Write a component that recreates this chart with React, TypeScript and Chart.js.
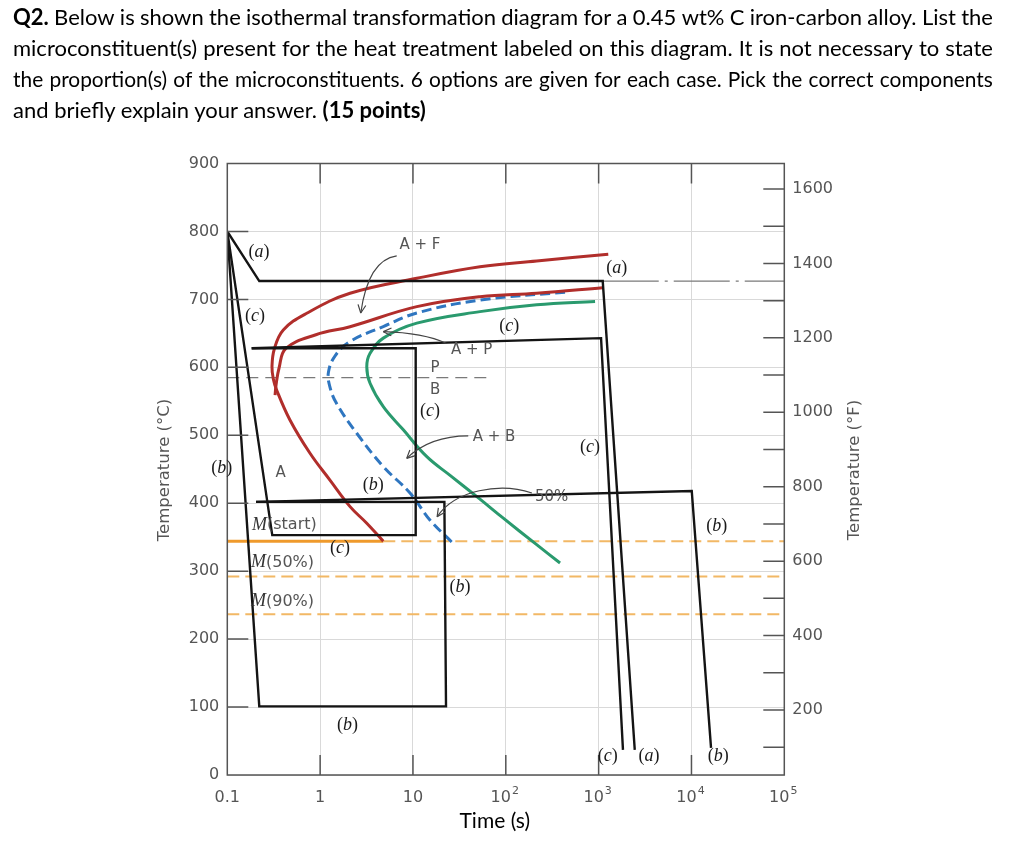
import React, { useEffect, useRef } from 'react';
import { Chart, registerables } from 'chart.js';
Chart.register(...registerables);

type Pt = [number, number];

// ---------- axes ----------
const timeTicks = [0.1, 1, 10, 100, 1000, 10000, 100000];
const timeTickBase = ['0.1', '1', '10', '10', '10', '10', '10'];
const timeTickExp = ['', '', '', '2', '3', '4', '5'];
const innerTimeTicks = [1, 10, 100, 1000, 10000];
const tempTicksC = [0, 100, 200, 300, 400, 500, 600, 700, 800, 900];
const innerTempTicksC = [100, 200, 300, 400, 500, 600, 700, 800];
const tempTicksF = [100, 200, 300, 400, 500, 600, 700, 800, 900, 1000, 1100, 1200, 1300, 1400, 1500, 1600];
const F_MIN = 25.3;
const F_MAX = 1668.5;

// ---------- transformation curves (time s, temperature °C) ----------
const ferriteStart: Pt[] = [
  [4.79, 344], [3.18, 370.5], [2.1, 395], [1.276, 434], [0.778, 473.5], [0.473, 522.5],
  [0.34, 566.7], [0.313, 583], [0.303, 601], [0.321, 627], [0.401, 655], [0.717, 679.6],
  [2.1, 709], [11.0, 731], [52.7, 748], [215, 756.5], [1270, 766.4],
];
const pearliteStart: Pt[] = [
  [0.327, 559], [0.335, 574], [0.361, 599], [0.428, 627.8], [0.9, 648], [2.1, 659.8],
  [11.0, 689.3], [52.7, 704], [215, 709], [1107, 717.3],
];
const fiftyPercent: Pt[] = [
  [26.1, 343], [15.3, 375], [9.29, 415], [4.79, 454], [2.48, 503], [1.5, 547], [1.27, 572],
  [1.23, 593], [1.45, 617], [2.1, 638], [4.79, 660], [11, 680], [52.7, 699], [471, 711],
];
const finishCurve: Pt[] = [
  [384, 312], [215, 339], [94, 378], [52.7, 406], [25.1, 441], [14.1, 468.5], [7.87, 508],
  [4.79, 542], [3.45, 576.5], [3.18, 601], [3.45, 620.7], [4.79, 643], [11, 665], [52.7, 682],
  [215, 692], [915, 697],
];

// ---------- martensite lines ----------
const mStartSolid: Pt[] = [[0.1, 344], [4.79, 344]];
const mStartDash: Pt[] = [[4.79, 344], [100000, 344]];
const m50: Pt[] = [[0.1, 292], [100000, 292]];
const m90: Pt[] = [[0.1, 236.5], [100000, 236.5]];
const pbBoundary: Pt[] = [[0.1, 585], [70, 585]];
const eutectoid: Pt[] = [[1107, 727], [100000, 727]];

// ---------- heat-treatment paths ----------
const pathA: Pt[] = [[0.1, 800], [0.221, 727], [1107, 727], [2450, 37]];
const pathB1: Pt[] = [[0.1, 800], [0.221, 101], [22.7, 101], [21.8, 402], [0.204, 402]];
const pathB2: Pt[] = [[0.204, 402], [10070, 418], [16250, 40]];
const pathC1: Pt[] = [[0.1, 800], [0.305, 353], [10.7, 353], [10.7, 628], [0.183, 628]];
const pathC2: Pt[] = [[0.183, 628], [1062, 643], [1829, 37]];

// ---------- annotations ----------
const letterLabels: [string, number, number][] = [
  ['a', 0.22, 770], ['c', 0.199, 675], ['a', 1567, 746], ['c', 109, 660], ['c', 15.3, 535],
  ['c', 807, 483], ['b', 0.087, 451], ['b', 3.74, 427], ['c', 1.64, 334], ['b', 32.1, 277],
  ['b', 18700, 365.5], ['b', 1.97, 73.6], ['c', 1253, 28], ['a', 3482, 28], ['b', 19450, 28],
];
const phaseLabels: [string, number, number][] = [
  ['A + F', 11.9, 780], ['A + P', 42.9, 625.6], ['P', 17.3, 598.6], ['B', 17.3, 566.7],
  ['A + B', 74.6, 498], ['A', 0.376, 444], ['50%', 312, 409.6],
];
const mLabels: [string, number, number][] = [
  ['(start)', 0.1846, 368], ['(50%)', 0.18, 312.5], ['(90%)', 0.18, 255],
];
const arrowAF: Pt[] = [[6.68, 764], [3.3, 758], [2.74, 680]];
const arrowAP: Pt[] = [[23.1, 635], [12.9, 651], [4.79, 652.5]];
const arrowAB: Pt[] = [[39.4, 499], [15.3, 499], [8.56, 466]];
const arrow50: Pt[] = [[191, 415], [86.6, 431], [28.4, 419.5], [18.2, 380]];

const titleLines: string[][] = [
  'Q2. Below is shown the isothermal transformation diagram for a 0.45 wt% C iron-carbon alloy. List the'.split(' '),
  'microconstituent(s) present for the heat treatment labeled on this diagram. It is not necessary to state'.split(' '),
  'the proportion(s) of the microconstituents. 6 options are given for each case. Pick the correct components'.split(' '),
];
const titleLast = 'and briefly explain your answer.';
const titleLastBold = '(15 points)';

const RED = '#b12e2b';
const GREEN = '#2a9a6e';
const BLUE = '#2f76c0';
const BLACK = '#141414';
const ORANGE = '#ef9a2c';
const ORANGE_D = '#f2b865';
const GRAY = '#7a7a7a';
const AXIS = '#555555';

const ds = (data: Pt[], color: string, width: number, extra: any = {}) => ({
  data: data.map(([x, y]) => ({ x, y })),
  borderColor: color,
  borderWidth: width,
  pointRadius: 0,
  fill: false,
  tension: 0,
  ...extra,
});

const overlay = {
  id: 'overlay',
  afterDatasetsDraw(chart: any) {
    const { ctx, chartArea: a, scales } = chart;
    const X = (t: number) => scales.x.getPixelForValue(t);
    const Y = (c: number) => scales.y.getPixelForValue(c);
    const YF = (f: number) => scales.y2.getPixelForValue(f);
    ctx.save();
    // frame
    ctx.strokeStyle = AXIS;
    ctx.lineWidth = 1.5;
    ctx.strokeRect(a.left, a.top, a.right - a.left, a.bottom - a.top);
    // inward ticks
    ctx.beginPath();
    innerTempTicksC.forEach((c) => { ctx.moveTo(a.left, Y(c)); ctx.lineTo(a.left + 21, Y(c)); });
    innerTimeTicks.forEach((t) => {
      ctx.moveTo(X(t), a.top); ctx.lineTo(X(t), a.top + 20);
      ctx.moveTo(X(t), a.bottom); ctx.lineTo(X(t), a.bottom - 20);
    });
    tempTicksF.forEach((f) => { ctx.moveTo(a.right - 21, YF(f)); ctx.lineTo(a.right, YF(f)); });
    ctx.stroke();

    // x tick labels
    ctx.fillStyle = AXIS;
    ctx.textBaseline = 'middle';
    timeTicks.forEach((t, i) => {
      const base = timeTickBase[i];
      const exp = timeTickExp[i];
      ctx.font = '16px "DejaVu Sans"';
      const wb = ctx.measureText(base).width;
      ctx.font = '11px "DejaVu Sans"';
      const we = exp ? ctx.measureText(exp).width + 1 : 0;
      const x0 = X(t) - (wb + we) / 2 - (exp ? 1 : 0);
      ctx.textAlign = 'left';
      ctx.font = '16px "DejaVu Sans"';
      ctx.fillText(base, x0, a.bottom + 23);
      if (exp) {
        ctx.font = '11px "DejaVu Sans"';
        ctx.fillText(exp, x0 + wb + 1, a.bottom + 16);
      }
    });

    // axis titles
    ctx.fillStyle = '#000';
    ctx.textAlign = 'center';
    ctx.font = '21px Lato';
    ctx.fillText('Time (s)', (a.left + a.right) / 2 - 11, a.bottom + 46);
    ctx.fillStyle = AXIS;
    ctx.font = '16.5px "DejaVu Sans"';
    ctx.save();
    ctx.translate(165, 470);
    ctx.rotate(-Math.PI / 2);
    ctx.fillText('Temperature (°C)', 0, 0);
    ctx.restore();
    ctx.save();
    ctx.translate(855, 470);
    ctx.rotate(-Math.PI / 2);
    ctx.fillText('Temperature (°F)', 0, 0);
    ctx.restore();

    // letter labels (a) (b) (c)
    ctx.fillStyle = '#1a1a1a';
    letterLabels.forEach(([l, t, c]) => {
      const parts: [string, string][] = [['(', '18px "Liberation Serif"'], [l, 'italic 18px "Liberation Serif"'], [')', '18px "Liberation Serif"']];
      let w = 0;
      parts.forEach(([s, f]) => { ctx.font = f; w += ctx.measureText(s).width; });
      let x = X(t) - w / 2;
      ctx.textAlign = 'left';
      parts.forEach(([s, f]) => { ctx.font = f; ctx.fillText(s, x, Y(c)); x += ctx.measureText(s).width; });
    });

    // phase labels
    ctx.fillStyle = AXIS;
    ctx.textAlign = 'center';
    ctx.font = '15px "DejaVu Sans"';
    phaseLabels.forEach(([s, t, c]) => ctx.fillText(s, X(t), Y(c)));

    // martensite labels
    mLabels.forEach(([s, t, c]) => {
      ctx.textAlign = 'left';
      ctx.fillStyle = '#333';
      ctx.font = 'italic 18px "Liberation Serif"';
      const x = X(t);
      ctx.fillText('M', x, Y(c));
      const wm = ctx.measureText('M').width;
      ctx.fillStyle = AXIS;
      ctx.font = '16px "DejaVu Sans"';
      ctx.fillText(s, x + wm, Y(c));
    });

    // arrows
    ctx.strokeStyle = '#444';
    ctx.lineWidth = 1.2;
    const head = (fx: number, fy: number, tx: number, ty: number) => {
      const ang = Math.atan2(ty - fy, tx - fx);
      ctx.beginPath();
      [0.45, -0.45].forEach((d) => {
        ctx.moveTo(tx, ty);
        ctx.lineTo(tx - 9 * Math.cos(ang + d), ty - 9 * Math.sin(ang + d));
      });
      ctx.stroke();
    };
    [arrowAF, arrowAP, arrowAB].forEach((p) => {
      const [s, q, e] = p.map(([t, c]) => [X(t), Y(c)]);
      ctx.beginPath();
      ctx.moveTo(s[0], s[1]);
      ctx.quadraticCurveTo(q[0], q[1], e[0], e[1]);
      ctx.stroke();
      head(q[0], q[1], e[0], e[1]);
    });
    {
      const [s, q1, q2, e] = arrow50.map(([t, c]) => [X(t), Y(c)]);
      ctx.beginPath();
      ctx.moveTo(s[0], s[1]);
      ctx.bezierCurveTo(q1[0], q1[1], q2[0], q2[1], e[0], e[1]);
      ctx.stroke();
      head(q2[0], q2[1], e[0], e[1]);
    }
    ctx.restore();
  },
};

export default function App() {
  const ref = useRef<HTMLCanvasElement | null>(null);
  useEffect(() => {
    if (!ref.current) return;
    const chart = new Chart(ref.current, {
      type: 'line',
      data: {
        datasets: [
          ds(pathA, BLACK, 2.4),
          ds(pathB1, BLACK, 2.4),
          ds(pathB2, BLACK, 2.4),
          ds(pathC1, BLACK, 2.4),
          ds(pathC2, BLACK, 2.4),
          ds(ferriteStart, RED, 3, { tension: 0.4 }),
          ds(pearliteStart, RED, 3, { tension: 0.4 }),
          ds(fiftyPercent, BLUE, 3, { tension: 0.4, borderDash: [10, 5] }),
          ds(finishCurve, GREEN, 3, { tension: 0.4 }),
          ds(mStartSolid, ORANGE, 3),
          ds(mStartDash, ORANGE_D, 2, { borderDash: [12, 6] }),
          ds(m50, ORANGE_D, 2, { borderDash: [12, 6] }),
          ds(m90, ORANGE_D, 2, { borderDash: [12, 6] }),
          ds(pbBoundary, GRAY, 1.3, { borderDash: [12, 7] }),
          ds(eutectoid, GRAY, 1.3, { borderDash: [56, 6, 3, 6] }),
        ],
      },
      options: {
        animation: false,
        responsive: false,
        maintainAspectRatio: false,
        layout: { padding: { top: 163.5, left: 0, right: 0, bottom: 0 } },
        plugins: { legend: { display: false }, tooltip: { enabled: false } },
        scales: {
          x: {
            type: 'logarithmic',
            min: 0.1,
            max: 100000,
            afterBuildTicks: (s: any) => { s.ticks = timeTicks.map((v) => ({ value: v })); },
            afterFit: (s: any) => { s.height = 74; },
            ticks: { display: false },
            grid: { color: '#d9d9d9', drawTicks: false },
            border: { display: false },
          },
          y: {
            type: 'linear',
            position: 'left',
            min: 0,
            max: 900,
            afterBuildTicks: (s: any) => { s.ticks = tempTicksC.map((v) => ({ value: v })); },
            afterFit: (s: any) => { s.width = 227.3; },
            ticks: { autoSkip: false, font: { family: 'DejaVu Sans', size: 16 }, color: AXIS, padding: 8 },
            grid: { color: '#d9d9d9', drawTicks: false },
            border: { display: false },
          },
          y2: {
            type: 'linear',
            position: 'right',
            min: F_MIN,
            max: F_MAX,
            afterBuildTicks: (s: any) => { s.ticks = tempTicksF.map((v) => ({ value: v })); },
            afterFit: (s: any) => { s.width = 1024 - 784.3; },
            ticks: {
              autoSkip: false,
              font: { family: 'DejaVu Sans', size: 16 },
              color: AXIS,
              padding: 8,
              callback: (v: any) => (Number(v) % 200 === 0 ? String(v) : ''),
            },
            grid: { display: false, drawTicks: false },
            border: { display: false },
          },
        },
      } as any,
      plugins: [overlay],
    });
    return () => chart.destroy();
  }, []);

  const lineStyle = (i: number): React.CSSProperties => {
    const squeeze = i === 2 ? 0.95 : 1;
    return {
      display: 'flex',
      justifyContent: 'space-between',
      width: 980 / squeeze,
      height: 31,
      lineHeight: '31px',
      whiteSpace: 'nowrap',
      transform: squeeze !== 1 ? `scaleX(${squeeze})` : undefined,
      transformOrigin: 'left center',
    };
  };

  return (
    <div style={{ position: 'absolute', left: 0, top: 0, width: 1024, height: 849, background: '#fff', overflow: 'hidden' }}>
      <canvas ref={ref} width={1024} height={849} style={{ position: 'absolute', left: 0, top: 0, width: 1024, height: 849 }} />
      <div style={{ position: 'absolute', left: 13, top: 1, fontFamily: 'Lato', fontSize: 22, color: '#000' }}>
        {titleLines.map((words, i) => (
          <div key={i} style={lineStyle(i)}>
            {words.map((w, j) => (
              <span key={j} style={{ fontWeight: i === 0 && j === 0 ? 700 : 400 }}>{w}</span>
            ))}
          </div>
        ))}
        <div style={{ height: 31, lineHeight: '31px', whiteSpace: 'nowrap' }}>
          {titleLast} <b>{titleLastBold}</b>
        </div>
      </div>
    </div>
  );
}
